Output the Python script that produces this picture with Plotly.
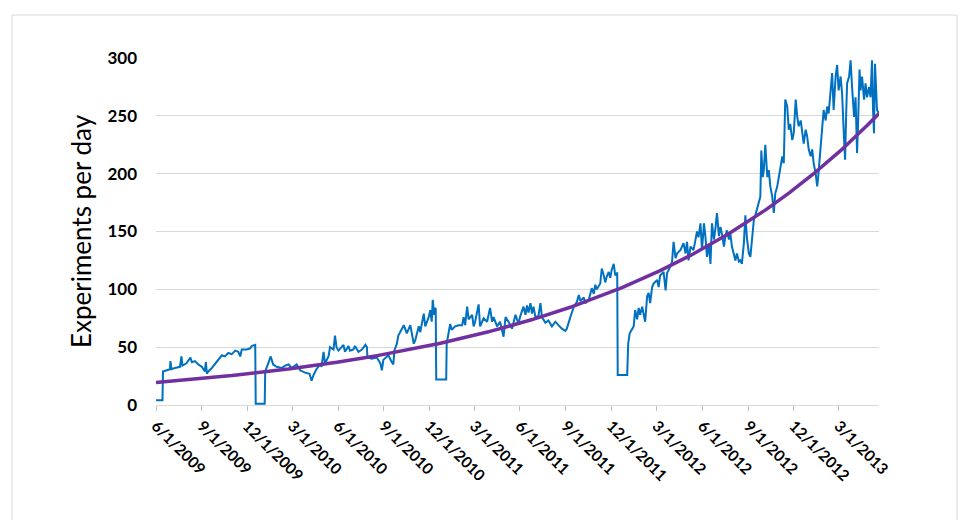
import pandas as pd
import numpy as np
import plotly.graph_objects as go

# ---- data ----
start_date = "2009-06-01"
end_date = "2013-05-21"

day_offsets = [
    0, 13, 14, 21, 28, 29, 31, 38, 48, 51, 53, 61, 69, 72, 78, 85, 92, 98, 100, 102,
    105, 112, 122, 128, 132, 138, 145, 152, 159, 165, 169, 172, 182, 189, 192, 199, 200, 218, 219, 225,
    230, 235, 242, 252, 259, 266, 272, 282, 289, 299, 308, 312, 316, 322, 329, 332, 336, 339, 346, 349,
    356, 359, 362,
    366, 376, 379, 386, 389, 396, 399, 406, 413, 420, 423, 424, 433, 443, 450, 453, 456, 466, 473, 476,
    478, 483, 486, 493, 497, 503, 510, 517, 520, 527, 530, 537, 540, 547, 550, 553, 555, 558, 560, 561,
    562, 582, 583, 590, 593, 600, 607, 614, 617, 620, 624, 627, 634, 637, 640, 647, 650, 657, 664, 670,
    674, 677, 684, 690, 697, 701, 707, 714, 721, 727,
    730, 737, 741, 744, 747, 751, 754, 757, 761, 767, 771, 774, 781, 787, 794, 801, 807, 814, 821, 824,
    831, 838, 844, 848, 851, 858, 861, 868, 874, 878, 881, 884, 891, 894, 898, 901, 904, 908, 911, 914,
    918, 921, 924, 925, 926, 945, 947, 950, 958, 961, 965, 968, 971, 975, 981, 985, 988, 991, 995, 998,
    1005, 1008, 1011, 1018, 1022, 1025, 1032, 1035, 1038, 1042, 1045, 1052, 1058, 1062, 1065, 1068, 1072, 1078, 1082, 1085,
    1088,
    1092, 1095, 1099, 1102, 1105, 1109, 1112, 1115, 1119, 1122, 1125, 1129, 1132, 1135, 1139, 1142, 1145, 1149, 1152, 1155,
    1159, 1162, 1165, 1169, 1172, 1175, 1179, 1182, 1185, 1189, 1192, 1196, 1199, 1202, 1206, 1209, 1212, 1214, 1217, 1219,
    1222, 1226, 1229, 1232, 1236, 1239, 1242, 1246, 1249, 1252, 1256, 1259, 1262, 1266, 1267, 1269, 1272, 1276, 1279, 1283,
    1286, 1289, 1293, 1296, 1299, 1303, 1306, 1309, 1313, 1316, 1319, 1323, 1326, 1328, 1331, 1333, 1336, 1339, 1343, 1346,
    1349, 1353, 1356, 1359, 1363, 1366, 1369, 1373, 1376, 1380, 1382, 1384, 1386, 1390, 1393, 1396, 1400, 1403, 1406, 1408,
    1411, 1413, 1416, 1420, 1423, 1426, 1430, 1433, 1436, 1438, 1440, 1442, 1444, 1446, 1450,
]

experiments = [
    4, 4, 29, 30, 31, 38, 31, 32, 33, 42, 34, 36, 41, 37, 38, 35, 33, 29, 37, 27,
    29, 32, 37, 40, 43, 42, 45, 44, 47, 46, 42, 48, 48, 49, 51, 52, 1, 1, 29, 36,
    42, 35, 33, 32, 34, 35, 32, 35, 30, 28, 27, 21, 26, 31, 35, 33, 46, 36, 42, 50,
    48, 60, 50,
    47, 52, 46, 51, 47, 48, 51, 46, 48, 52, 50, 41, 40, 41, 36, 30, 39, 43, 37, 35,
    47, 53, 60, 65, 69, 62, 69, 53, 56, 68, 63, 79, 68, 76, 82, 72, 91, 78, 84, 83,
    22, 22, 53, 70, 65, 68, 69, 69, 76, 69, 85, 74, 78, 68, 72, 87, 68, 75, 72, 84,
    72, 76, 68, 72, 59, 76, 72, 66, 78, 70,
    76, 85, 78, 86, 80, 88, 79, 85, 76, 77, 88, 76, 71, 73, 68, 72, 69, 66, 64, 66,
    76, 85, 89, 95, 90, 93, 88, 91, 101, 96, 104, 100, 105, 118, 112, 106, 111, 115, 110, 117,
    122, 112, 114, 114, 26, 26, 53, 62, 68, 82, 74, 84, 78, 85, 72, 94, 97, 88, 102, 105,
    108, 102, 112, 115, 99, 114, 120, 124, 141, 127, 131, 134, 140, 131, 141, 125, 137, 134, 143, 150,
    145,
    157, 134, 157, 145, 128, 139, 122, 157, 143, 153, 166, 146, 154, 148, 137, 146, 151, 143, 148, 137,
    131, 125, 131, 124, 125, 122, 140, 164, 145, 131, 128, 145, 160, 164, 171, 174, 180, 220, 197, 203,
    225, 197, 203, 189, 180, 166, 183, 189, 197, 206, 215, 209, 264, 258, 246, 238, 243, 229, 235, 264,
    249, 241, 246, 238, 226, 238, 232, 221, 215, 221, 209, 200, 189, 197, 212, 226, 241, 255, 246, 258,
    252, 272, 287, 255, 284, 294, 272, 284, 269, 229, 212, 249, 278, 284, 298, 275, 249, 266, 218, 243,
    290, 272, 284, 264, 278, 266, 275, 266, 298, 255, 235, 295, 275, 255, 252,
]

# exponential trendline (value at first and last date)
trend_start_value = 19.5
trend_end_value = 252.0

y_ticks = [0, 50, 100, 150, 200, 250, 300]
y_title = "Experiments per day"

# ---- build ----
t0 = pd.Timestamp(start_date)
dates = t0 + pd.to_timedelta(day_offsets, unit="D")

span = (pd.Timestamp(end_date) - t0).days
trend_days = np.arange(0, span + 1)
rate = np.log(trend_end_value / trend_start_value) / span
trend_vals = trend_start_value * np.exp(rate * trend_days)
trend_dates = t0 + pd.to_timedelta(trend_days, unit="D")

fig = go.Figure()
fig.add_trace(go.Scatter(
    x=dates, y=experiments, mode="lines",
    line=dict(color="#0070C0", width=2), hoverinfo="x+y",
))
fig.add_trace(go.Scatter(
    x=trend_dates, y=trend_vals, mode="lines",
    line=dict(color="#7030A0", width=3.5), hoverinfo="skip",
))

# page body has an 8px default margin, so the figure is 8px smaller
OFF = 8
W, H = 969 - OFF, 520 - OFF
L, R, T, B = 156 - OFF, 90, 58 - OFF, 115
pw, ph = W - L - R, H - T - B

def px_to_paper_x(px):
    return (px - OFF - L) / pw

def px_to_paper_y(py):
    return (H - B - (py - OFF)) / ph

fig.update_layout(
    width=W, height=H,
    margin=dict(l=L, r=R, t=T, b=B),
    paper_bgcolor="white", plot_bgcolor="white",
    showlegend=False,
    font=dict(family="Lato, Liberation Sans, sans-serif", color="#000000"),
    xaxis=dict(
        type="date",
        range=[start_date, end_date],
        tickmode="linear", tick0=start_date, dtick="M3",
        tickformat="%-m/%-d/%Y",
        tickangle=45,
        ticks="outside", ticklen=5, tickcolor="#bfbfbf", tickwidth=1,
        showline=True, linecolor="#d9d9d9", linewidth=1,
        showgrid=False, zeroline=False,
        tickfont=dict(size=15.5, weight="bold", color="#000000"),
    ),
    yaxis=dict(
        range=[0, 300],
        tickmode="array", tickvals=y_ticks,
        showgrid=True, gridcolor="#d9d9d9", gridwidth=1,
        zeroline=False, showline=False, ticks="",
        ticklabelstandoff=18,
        tickfont=dict(size=17, weight="bold", color="#000000"),
        title=dict(text=y_title, font=dict(size=26, color="#000000"), standoff=8),
    ),
    shapes=[dict(
        type="rect", xref="paper", yref="paper",
        x0=px_to_paper_x(12), x1=px_to_paper_x(957),
        y0=px_to_paper_y(535), y1=px_to_paper_y(15),
        line=dict(color="#d9d9d9", width=1), fillcolor="rgba(0,0,0,0)", layer="below",
    )],
)

fig.write_html("out.html")
